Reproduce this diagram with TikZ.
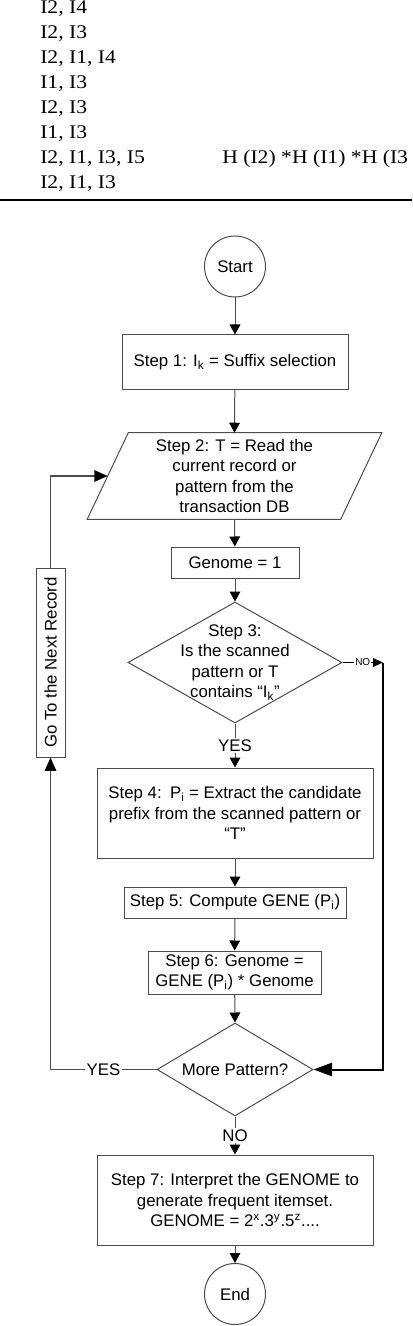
\documentclass[tikz,border=0pt]{standalone}
\usepackage{fontspec}
\setmainfont{Liberation Serif}
\newfontfamily\arialf{Liberation Sans}
\newfontfamily\tabf[FakeStretch=1.12]{Liberation Serif}
\usetikzlibrary{shapes.geometric,arrows.meta}
\definecolor{ln}{gray}{0.3}
\begin{document}
\begin{tikzpicture}[x=0.75pt,y=-0.75pt,
  every node/.style={font=\arialf\fontsize{12.6pt}{15.4pt}\selectfont},
  tabtext/.style={font=\tabf\fontsize{14.5pt}{18pt}\selectfont, anchor=base west, inner sep=0pt},
  box/.style={draw=ln, line width=0.75pt, rectangle, inner sep=0pt, align=center},
  term/.style={draw=ln, line width=0.75pt, circle, inner sep=0pt, minimum size=45.75pt},
  decision/.style={draw=ln, line width=0.75pt, diamond, inner sep=0pt},
  conn/.style={draw=ln, line width=0.75pt, -{Triangle[length=7.5pt,width=8pt,color=black]}},
  loopconn/.style={draw=ln, line width=1.3pt, -{Triangle[length=10pt,width=8.5pt,color=black]}},
  noconn/.style={draw=black, line width=1.5pt, -{Triangle[length=14pt,width=10pt]}},
  lbl/.style={fill=white, inner sep=1pt},
  smalllbl/.style={fill=white, inner sep=0.6pt, font=\arialf\fontsize{7.5pt}{9pt}\selectfont}
]
\useasboundingbox (0,0) rectangle (412,1326);

% table fragment at the top
\foreach \t [count=\i from 0] in {{I2, I4},{I2, I3},{I2, I1, I4},{I1, I3},{I2, I3},{I1, I3},{I2, I1, I3, I5},{I2, I1, I3}}
  \node[tabtext] (r\i) at (40,13.5+25*\i) {\t};
\node[tabtext] (hx) at (222,163.5) {H (I2) *H (I1) *H (I3};
\draw[line width=1.5pt] (0,200) -- (412,200);

% flowchart nodes
\node[term] (start) at (235,266.5) {Start};
\node[box, minimum width=169.5pt, minimum height=40.5pt] (s1) at (235,362)
  {Step 1: I\textsubscript{k} = Suffix selection};
\node[inner sep=0pt, minimum width=189.75pt, minimum height=64.5pt, align=center] (p2) at (234.5,476)
  {Step 2: T = Read the\\current record or\\pattern from the\\transaction DB};
\draw[draw=ln, line width=0.75pt]
  ([xshift=15.4pt]p2.north west) -- ([xshift=15.4pt]p2.north east) --
  ([xshift=-15.4pt]p2.south east) -- ([xshift=-15.4pt]p2.south west) -- cycle;
\node[box, minimum width=96pt, minimum height=23.25pt] (g1) at (235,562.5) {Genome = 1};
\node[decision, minimum width=160.5pt, minimum height=90.75pt,
  label={[align=center]center:Step 3:\\Is the scanned\\pattern or T\\contains “I\textsubscript{k}”}] (d1) at (235,662.5) {};
\node[box, minimum width=207pt, minimum height=67.5pt] (s4) at (235,813)
  {Step 4:\enspace P\textsubscript{i} = Extract the candidate\\prefix from the scanned pattern or\\“T”};
\node[box, minimum width=166.5pt, minimum height=23.25pt] (s5) at (235,902.5)
  {Step 5: Compute GENE (P\textsubscript{i})};
\node[box, minimum width=129.75pt, minimum height=32.25pt] (s6) at (234.5,972.5)
  {Step 6: Genome =\\GENE (P\textsubscript{i}) * Genome};
\node[decision, minimum width=117pt, minimum height=69.75pt,
  label={center:More Pattern?}] (d2) at (235,1069.5) {};
\node[box, minimum width=207pt, minimum height=67.5pt] (s7) at (235,1200)
  {Step 7: Interpret the GENOME to\\generate frequent itemset.\\GENOME = 2\textsuperscript{x}.3\textsuperscript{y}.5\textsuperscript{z}....};
\node[term] (end) at (235,1294) {End};
\node[box, minimum width=21.75pt, minimum height=141.75pt] (go) at (50.5,662.5)
  {\rotatebox{90}{Go To the Next Record}};
\coordinate (nc) at (383,662.5);

% connectors
\draw[conn] (start) -- (s1);
\draw[conn] (s1) -- (p2.north);
\draw[conn] (p2.south) -- (g1);
\draw[conn] (g1) -- (d1.north);
\draw[conn] (d1.south) -- node[lbl] {YES} (s4.north);
\draw[conn] (s4) -- (s5);
\draw[conn] (s5) -- (s6);
\draw[conn] (s6) -- (d2.north);
\draw[conn] (d2.south) -- node[lbl] {NO} (s7.north);
\draw[conn] (s7) -- (end);
\draw[draw=black, line width=1.2pt, -{Triangle[length=7.5pt,width=6.5pt]}] (d1.east) -- node[smalllbl] {NO} (nc);
\draw[noconn] (nc) |- (d2.east);
\draw[loopconn] (d2.west) -| node[pos=0.25, lbl] {YES} (go.south);
\draw[loopconn] (go.north) |- (p2.west);
\end{tikzpicture}
\end{document}
